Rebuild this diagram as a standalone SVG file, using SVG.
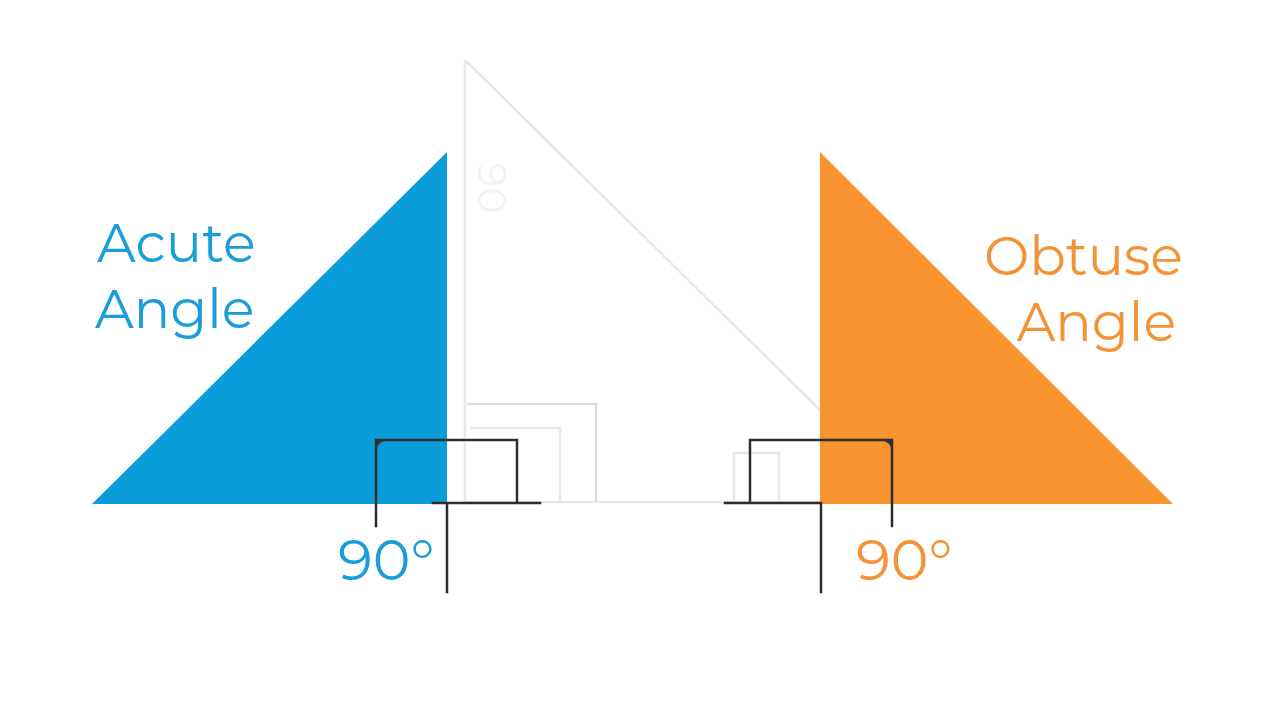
<svg xmlns="http://www.w3.org/2000/svg" width="1280" height="720" viewBox="0 0 1280 720">
<style>
.lbl{font-family:Montserrat,"Open Sans","Noto Sans",sans-serif;font-size:54px;font-weight:400}
.num{font-size:57px}
.blue{fill:#1a9dd9}
.orange{fill:#f49236}
.ink{stroke:#2e2e2e;stroke-width:2.5;fill:none;stroke-linecap:square}
.faint{stroke:#e8e8e8;stroke-width:2.5;fill:none}
.faint2{stroke:#d9d9d9;stroke-width:2;fill:none}
</style>
<rect width="1280" height="720" fill="#ffffff"/>
<g id="background-triangle">
<path class="faint" d="M465,60 L465,502 L820,502 M465,60 L820,410"/>
<path class="faint2" d="M467,404 L596,404 L596,502"/>
<path class="faint" d="M470,428 L560,428 L560,502"/>
<path class="faint" d="M734,502 L734,453 L779,453 L779,502"/>
<text x="0" y="0" transform="translate(478,163) rotate(90)" font-family="Montserrat,'Open Sans',sans-serif" font-size="40" fill="#f2f2f2">90</text>
</g>
<g id="acute">
<polygon points="92,504 447,152 447,504" fill="#0b9dda"/>
<text class="lbl blue" x="97" y="262">Acute</text>
<text class="lbl blue" x="95" y="328">Angle</text>
<text class="lbl num blue" x="338" y="580">90°</text>
</g>
<g id="obtuse">
<polygon points="820,152 1173,504 820,504" fill="#f7942f"/>
<text class="lbl orange" x="1183" y="275" text-anchor="end">Obtuse</text>
<text class="lbl orange" x="1176" y="341" text-anchor="end">Angle</text>
<text class="lbl num orange" x="856" y="580">90°</text>
</g>
<g id="connectors">
<path class="ink" d="M433,503 L540,503 M447,503 L447,592 M376,526 L376,440 L517,440 L517,503"/>
<path d="M377,441 L384,441 Q378,443 377,448 Z" fill="#2e2e2e"/>
<path class="ink" d="M725,503 L820,503 M821,503 L821,592 M750,503 L750,440 L892,440 L892,526"/>
<path d="M891,441 L884,441 Q890,443 891,448 Z" fill="#2e2e2e"/>
</g>
</svg>
